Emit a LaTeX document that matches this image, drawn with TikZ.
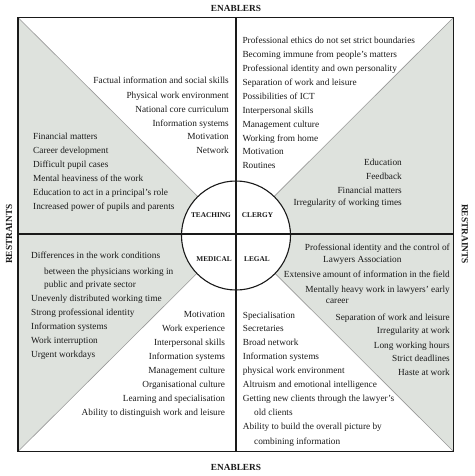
\documentclass[tikz,border=0pt]{standalone}
\usepackage{fontspec}
\setmainfont{Liberation Serif}
\definecolor{restraintfill}{HTML}{DEE2DD}
\definecolor{ink}{HTML}{1A1A1A}
\begin{document}
\begin{tikzpicture}[x=1pt,y=-1pt,
  lbl/.style={font=\fontsize{9.3}{11}\selectfont, inner sep=0pt, text=ink},
  lt/.style={lbl, anchor=mid west},
  rt/.style={lbl, anchor=mid east},
  hdr/.style={font=\bfseries\fontsize{9.3}{11}\selectfont, inner sep=0pt, text=ink},
  prof/.style={font=\bfseries\fontsize{7.3}{9}\selectfont, inner sep=0pt, text=ink},
  frame/.style={draw=ink, line width=1.4pt},
  cross/.style={draw=ink, line width=1.1pt},
  diag/.style={draw=gray!80, line width=0.6pt}]
\useasboundingbox (0,0) rectangle (474,476);
\coordinate (tl) at (18,17.5);
\coordinate (tr) at (453.5,17.5);
\coordinate (bl) at (18,451.5);
\coordinate (br) at (453.5,451.5);
\coordinate (c) at (236,234.5);
\coordinate (tm) at (236,17.5);
\coordinate (bm) at (236,451.5);
\coordinate (lm) at (18,234);
\coordinate (rm) at (453.5,234);
% shaded restraint triangles
\fill[restraintfill] (tl) -- (c) -- (bl) -- cycle;
\fill[restraintfill] (tr) -- (c) -- (br) -- cycle;
\draw[diag] (tl) -- (c) -- (br);
\draw[diag] (tr) -- (c) -- (bl);
% circle
\fill[white] (236,235.5) circle (54.5);
\draw[cross] (tm) -- (bm);
\draw[cross] (lm) -- (rm);
\draw[cross] (236,235.5) circle (54.5);
\draw[frame] (tl) rectangle (br);
% headers
\node[hdr] (enT) at (236,8) {ENABLERS};
\node[hdr] (enB) at (236,467) {ENABLERS};
\node[hdr, rotate=90] (reL) at (9,234) {RESTRAINTS};
\node[hdr, rotate=-90] (reR) at (465,234) {RESTRAINTS};
% professions
\node[prof] (teach) at (211,215) {TEACHING};
\node[prof] (clergy) at (257.5,215) {CLERGY};
\node[prof] (medical) at (214,259) {MEDICAL};
\node[prof] (legal) at (257,259) {LEGAL};
% teaching enablers
\node[rt] (t1) at (229,81.7) {Factual information and social skills};
\node[rt] (t2) at (229,96) {Physical work environment};
\node[rt] (t3) at (229,110) {National core curriculum};
\node[rt] (t4) at (229,124) {Information systems};
\node[rt] (t5) at (229,137.7) {Motivation};
\node[rt] (t6) at (229,151.7) {Network};
% teaching restraints
\node[lt] (tr1) at (33,137.7) {Financial matters};
\node[lt] (tr2) at (33,151.7) {Career development};
\node[lt] (tr3) at (33,165.7) {Difficult pupil cases};
\node[lt] (tr4) at (33,179.3) {Mental heaviness of the work};
\node[lt] (tr5) at (33,193.3) {Education to act in a principal’s role};
\node[lt] (tr6) at (33,207.3) {Increased power of pupils and parents};
% clergy enablers
\node[lt] (c1) at (242.3,41.7) {Professional ethics do not set strict boundaries};
\node[lt] (c2) at (242.3,55.5) {Becoming immune from people’s matters};
\node[lt] (c3) at (242.3,69.3) {Professional identity and own personality};
\node[lt] (c4) at (242.3,83.3) {Separation of work and leisure};
\node[lt] (c5) at (242.3,97.3) {Possibilities of ICT};
\node[lt] (c6) at (242.3,111) {Interpersonal skills};
\node[lt] (c7) at (242.3,125) {Management culture};
\node[lt] (c8) at (242.3,139) {Working from home};
\node[lt] (c9) at (242.3,152.7) {Motivation};
\node[lt] (c10) at (242.3,166.7) {Routines};
% clergy restraints
\node[rt] (cr1) at (402,163.3) {Education};
\node[rt] (cr2) at (402,177) {Feedback};
\node[rt] (cr3) at (402,191) {Financial matters};
\node[rt] (cr4) at (402,203.5) {Irregularity of working times};
% medical restraints
\node[lt] (m1) at (31,256.7) {Differences in the work conditions};
\node[lt] (m1b) at (44,272) {between the physicians working in};
\node[lt] (m1c) at (44,285.7) {public and private sector};
\node[lt] (m2) at (31,299.7) {Unevenly distributed working time};
\node[lt] (m3) at (31,313.3) {Strong professional identity};
\node[lt] (m4) at (31,327.7) {Information systems};
\node[lt] (m5) at (31,341) {Work interruption};
\node[lt] (m6) at (31,355.7) {Urgent workdays};
% medical enablers
\node[rt] (me1) at (225.3,315.3) {Motivation};
\node[rt] (me2) at (225.3,329) {Work experience};
\node[rt] (me3) at (225.3,343.3) {Interpersonal skills};
\node[rt] (me4) at (225.3,357.3) {Information systems};
\node[rt] (me5) at (225.3,371) {Management culture};
\node[rt] (me6) at (225.3,385.3) {Organisational culture};
\node[rt] (me7) at (225.3,399) {Learning and specialisation};
\node[rt] (me8) at (225.3,413.3) {Ability to distinguish work and leisure};
% legal restraints
\node[rt] (l1) at (450,248.3) {Professional identity and the control of};
\node[lt] (l1b) at (323,260.7) {Lawyers Association};
\node[rt] (l2) at (450,275.7) {Extensive amount of information in the field};
\node[rt] (l3) at (450,290.3) {Mentally heavy work in lawyers’ early};
\node[lt] (l3b) at (325.7,301.7) {career};
\node[rt] (l4) at (450,318.3) {Separation of work and leisure};
\node[rt] (l5) at (450,331.7) {Irregularity at work};
\node[rt] (l6) at (450,346) {Long working hours};
\node[rt] (l7) at (450,359.3) {Strict deadlines};
\node[rt] (l8) at (450,373.3) {Haste at work};
% legal enablers
\node[lt] (le1) at (242.7,316) {Specialisation};
\node[lt] (le2) at (242.7,329.3) {Secretaries};
\node[lt] (le3) at (242.7,343.3) {Broad network};
\node[lt] (le4) at (242.7,357.3) {Information systems};
\node[lt] (le5) at (242.7,371) {physical work environment};
\node[lt] (le6) at (242.7,385) {Altruism and emotional intelligence};
\node[lt] (le7) at (242.7,399.3) {Getting new clients through the lawyer’s};
\node[lt] (le7b) at (254,413.3) {old clients};
\node[lt] (le8) at (242.7,427.7) {Ability to build the overall picture by};
\node[lt] (le8b) at (254,441.7) {combining information};
\end{tikzpicture}
\end{document}
